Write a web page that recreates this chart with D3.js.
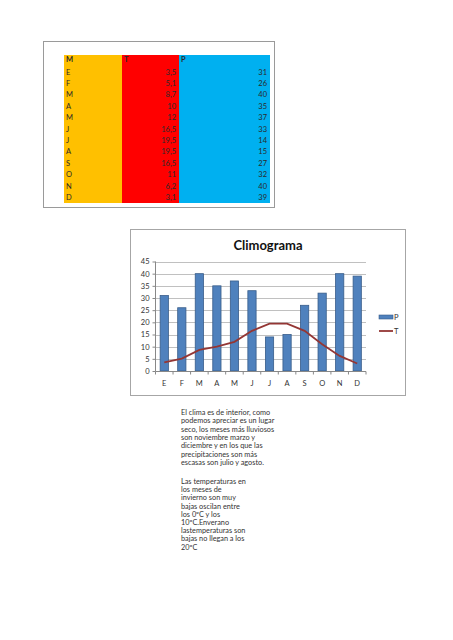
<!DOCTYPE html>
<html><head><meta charset="utf-8">
<script src="https://cdn.jsdelivr.net/npm/d3@7"></script>
<style>body{margin:0;background:#fff}svg{display:block}</style>
</head><body>
<script>
const months = ["E","F","M","A","M","J","J","A","S","O","N","D"];
const temps = [3.5,5.1,8.7,10,12,16.5,19.5,19.5,16.5,11,6.2,3.1];
const precip = [31,26,40,35,37,33,14,15,27,32,40,39];
const yTicks = [0,5,10,15,20,25,30,35,40,45];
const headers = ["M","T","P"];
const para1 = ["El clima es de interior, como","podemos apreciar es un lugar","seco, los meses más lluviosos","son noviembre marzo y","diciembre y en los que las","precipitaciones son más","escasas son julio y agosto."];
const para2 = ["Las temperaturas en","los meses de","invierno son muy","bajas oscilan entre","los 0ºC y los","10ºC.Enverano","lastemperaturas son","bajas no llegan a los","20ºC"];

const font = "Lato, 'Open Sans', sans-serif";
const svg = d3.select("body").append("svg").attr("width",453).attr("height",640);

// ---- Table ----
svg.append("rect").attr("x",43.5).attr("y",41.5).attr("width",231).attr("height",166)
  .attr("fill","#fff").attr("stroke","#9a9a9a");
const colX = [64,122,179,270];
const colColors = ["#FFC000","#FF0000","#00B0F0"];
const rowY = d3.scaleBand().domain(d3.range(13)).range([55,203]);
colColors.forEach((c,i)=>svg.append("rect").attr("x",colX[i]).attr("y",55).attr("width",colX[i+1]-colX[i]).attr("height",148).attr("fill",c));
const tt = svg.append("g").attr("font-family",font).attr("font-size",7.5).attr("fill","#2a2a2a");
headers.forEach((h,i)=>tt.append("text").attr("x",colX[i]+2).attr("y",rowY(0)+rowY.bandwidth()/2-1).attr("dy","0.35em").attr("font-weight","bold").text(h));
months.forEach((m,i)=>{
  const y = rowY(i+1)+rowY.bandwidth()/2;
  tt.append("text").attr("x",66).attr("y",y).attr("dy","0.35em").text(m);
  tt.append("text").attr("x",176).attr("y",y).attr("dy","0.35em").attr("text-anchor","end").text(String(temps[i]).replace(".",","));
  tt.append("text").attr("x",267).attr("y",y).attr("dy","0.35em").attr("text-anchor","end").text(precip[i]);
});

// ---- Chart ----
svg.append("rect").attr("x",130.5).attr("y",229.5).attr("width",275).attr("height",166)
  .attr("fill","#fff").attr("stroke","#a6a6a6");
svg.append("text").attr("x",268).attr("y",249.5).attr("text-anchor","middle").attr("font-family",font)
  .attr("font-weight","bold").attr("font-size",13).attr("fill","#111").text("Climograma");

const x = d3.scaleBand().domain(d3.range(12)).range([155.5,366]).paddingInner(0.53).paddingOuter(0.265);
const y = d3.scaleLinear().domain([0,45]).range([371,261.5]);

const grid = svg.append("g");
yTicks.forEach(t=>grid.append("line").attr("x1",155.5).attr("x2",366).attr("y1",Math.round(y(t))+0.5).attr("y2",Math.round(y(t))+0.5).attr("stroke","#c0c0c0").attr("stroke-width",1));

svg.append("g").selectAll("rect").data(precip).join("rect")
  .attr("x",(d,i)=>x(i)).attr("width",x.bandwidth())
  .attr("y",d=>y(d)).attr("height",d=>y(0)-y(d))
  .attr("fill","#4F81BD").attr("stroke","#385D8A").attr("stroke-width",0.8);

const line = d3.line().x((d,i)=>x(i)+x.bandwidth()/2).y(d=>y(d));
svg.append("path").datum(temps).attr("d",line).attr("fill","none").attr("stroke","#943634").attr("stroke-width",1.8);

const yAxis = svg.append("g").attr("transform","translate(155.5,0)")
  .call(d3.axisLeft(y).tickValues(yTicks).tickSize(3).tickSizeOuter(0));
const xAxis = svg.append("g").attr("transform","translate(0,371.5)")
  .call(d3.axisBottom(x).tickFormat(i=>months[i]).tickSize(0).tickPadding(9));
[yAxis,xAxis].forEach(a=>{
  a.selectAll("path,line").attr("stroke","#888");
  a.selectAll("text").attr("font-family",font).attr("font-size",7.5).attr("fill","#333");
});
yAxis.select(".domain").attr("d","M0,261.5V371");
xAxis.select(".domain").attr("d","M155.5,0H366");
xAxis.selectAll(".sep").data(d3.range(13)).join("line")
  .attr("x1",i=>155.5+i*(366-155.5)/12).attr("x2",i=>155.5+i*(366-155.5)/12)
  .attr("y1",0).attr("y2",3).attr("stroke","#888");

// legend
svg.append("rect").attr("x",379).attr("y",315).attr("width",14).attr("height",4).attr("fill","#4F81BD").attr("stroke","#385D8A").attr("stroke-width",0.6);
svg.append("text").attr("x",394).attr("y",317).attr("dy","0.35em").attr("font-family",font).attr("font-size",7.5).attr("fill","#333").text("P");
svg.append("line").attr("x1",379).attr("x2",393).attr("y1",331).attr("y2",331).attr("stroke","#943634").attr("stroke-width",1.8);
svg.append("text").attr("x",394).attr("y",331).attr("dy","0.35em").attr("font-family",font).attr("font-size",7.5).attr("fill","#333").text("T");

// paragraphs
const pg = svg.append("g").attr("font-family",font).attr("font-size",7.3).attr("fill","#333");
para1.forEach((s,i)=>pg.append("text").attr("x",181).attr("y",415+i*8.3).text(s));
para2.forEach((s,i)=>pg.append("text").attr("x",181).attr("y",484+i*8.2).text(s));
</script>
</body></html>
